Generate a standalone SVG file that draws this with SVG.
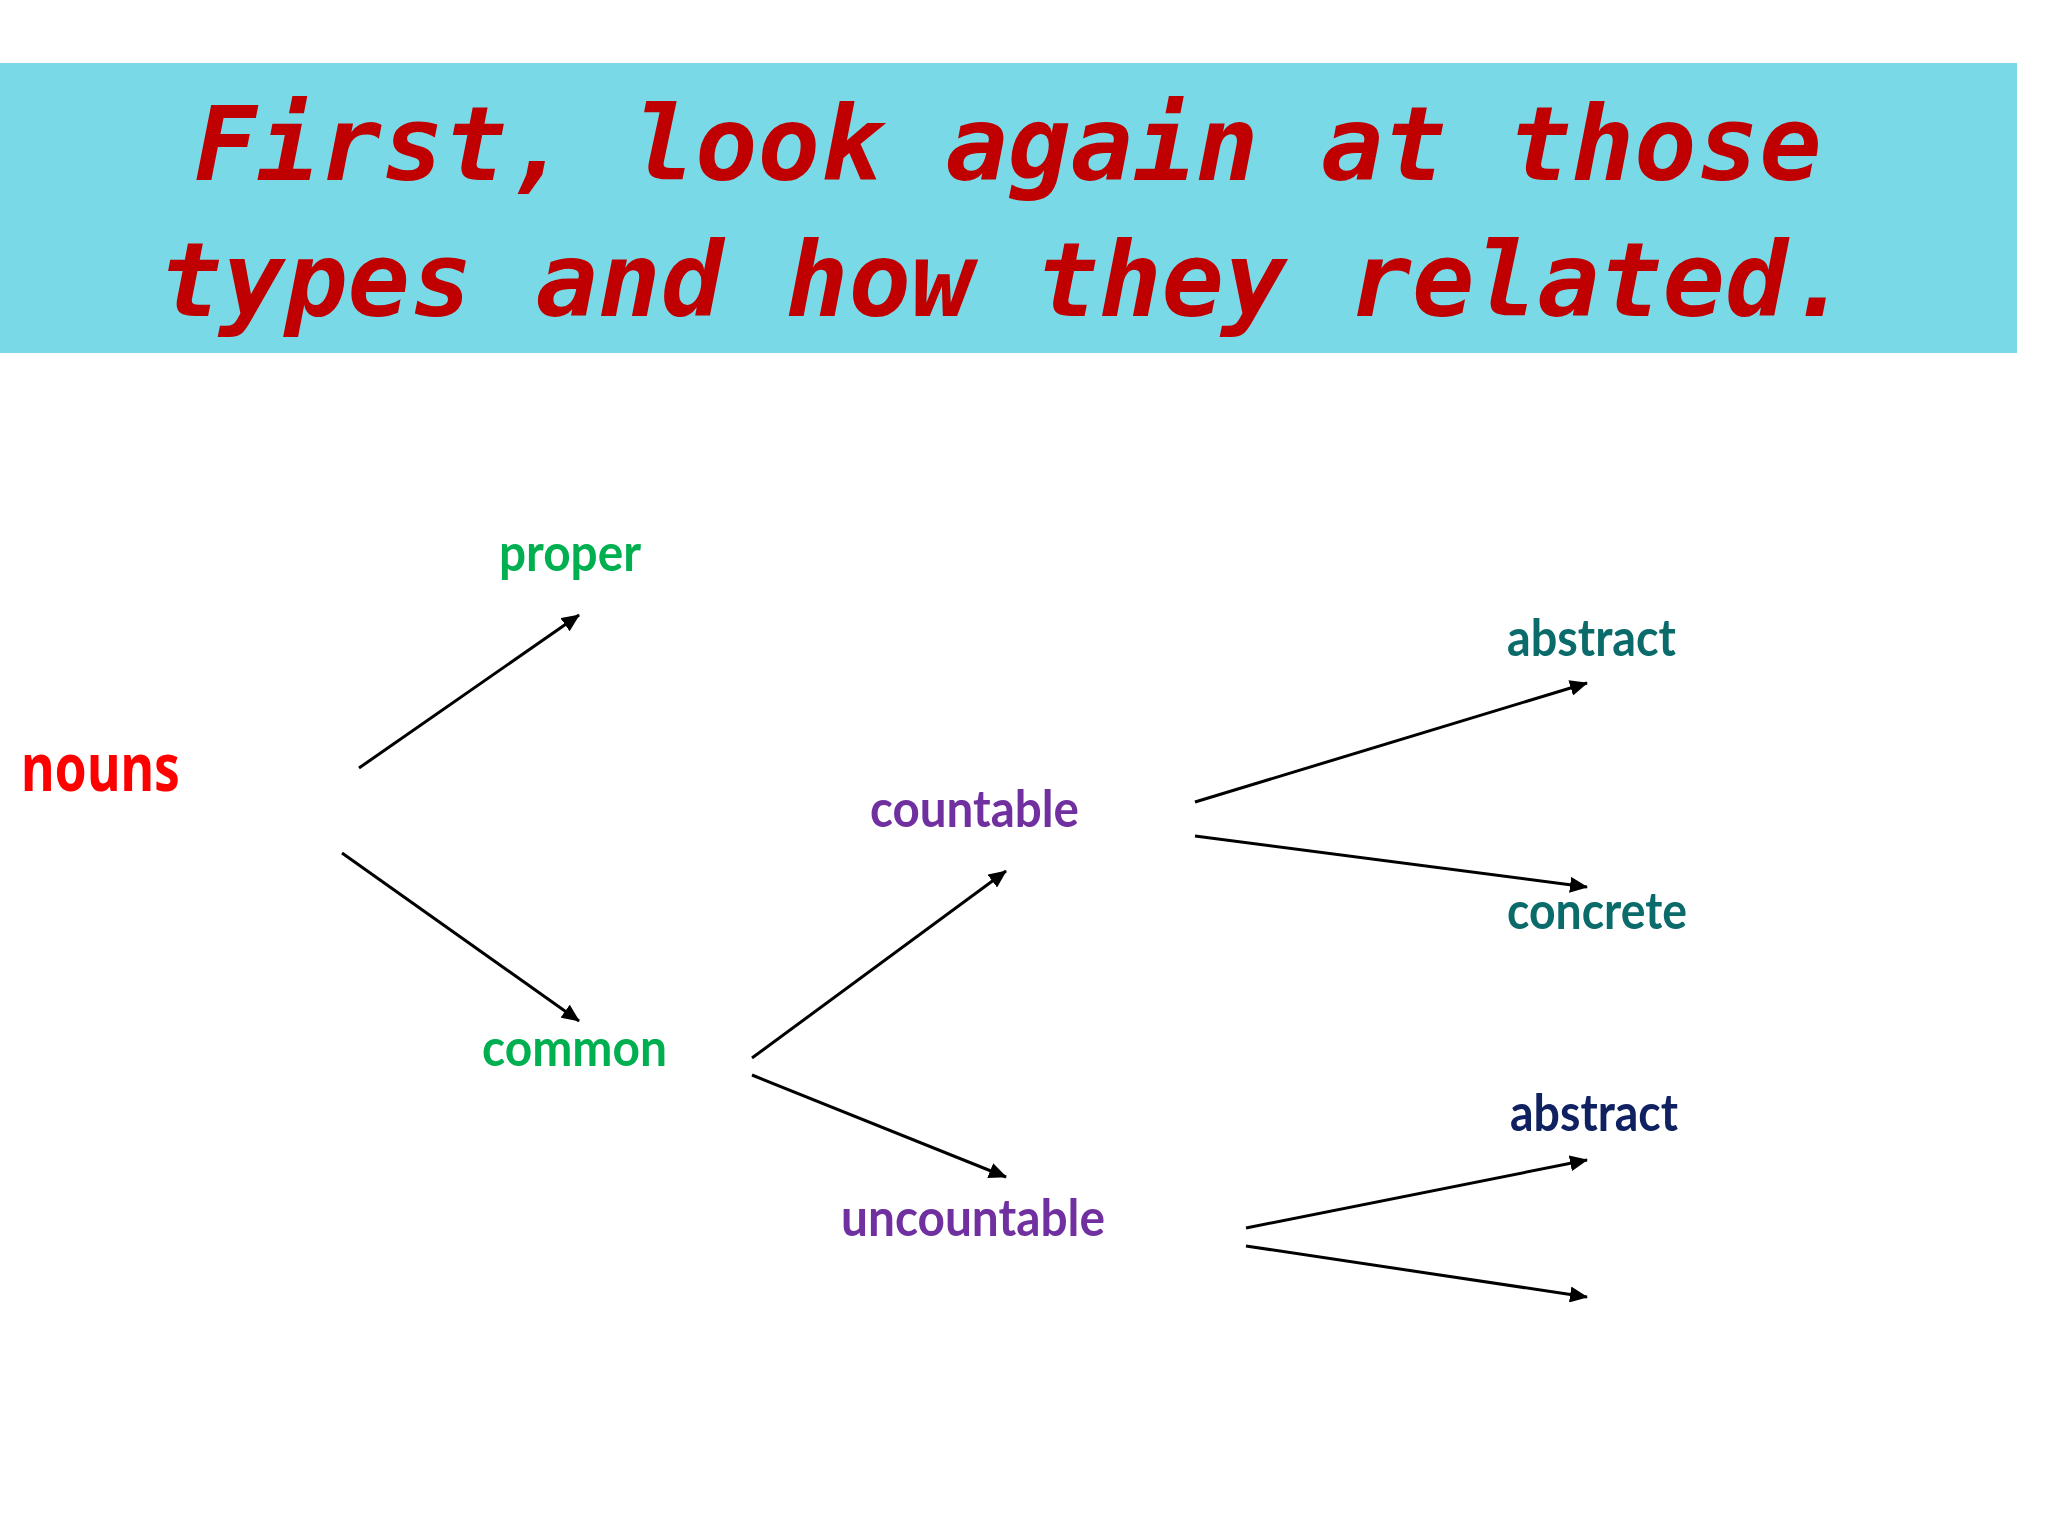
<svg xmlns="http://www.w3.org/2000/svg" width="2048" height="1536" viewBox="0 0 2048 1536">
<style>
.title{font-family:"DejaVu Sans Mono","Liberation Mono",monospace;font-weight:bold;font-style:oblique;font-size:104px;fill:#C00000}
.lbl{font-family:Lato,"Noto Sans","Liberation Sans",sans-serif;font-weight:bold;font-size:52px}
.green{fill:#00B050}
.purple{fill:#7030A0}
.teal{fill:#0B6B6B}
.navy{fill:#0F2160}
.nouns{font-family:"Noto Sans","Liberation Sans",sans-serif;font-weight:bold;font-size:66px;fill:#FF0000}
.conn line{stroke:#000;stroke-width:3;marker-end:url(#ah)}
</style>
<defs>
<marker id="ah" markerUnits="userSpaceOnUse" markerWidth="18" markerHeight="16" refX="17" refY="8" orient="auto">
<path d="M0,0 L18,8 L0,16 z" fill="#000"/>
</marker>
</defs>
<rect width="2048" height="1536" fill="#fff"/>
<g id="banner">
<rect x="0" y="63" width="2017" height="290" fill="#79D9E7"/>
<text class="title" x="1008" y="180" text-anchor="middle">First, look again at those</text>
<text class="title" x="1005" y="316" text-anchor="middle">types and how they related.</text>
</g>
<g id="node-nouns"><text class="nouns" x="21" y="791" textLength="159" lengthAdjust="spacingAndGlyphs">nouns</text></g>
<g id="node-proper"><text class="lbl green" x="499" y="571" textLength="142" lengthAdjust="spacingAndGlyphs">proper</text></g>
<g id="node-common"><text class="lbl green" x="482" y="1066" textLength="185" lengthAdjust="spacingAndGlyphs">common</text></g>
<g id="node-countable"><text class="lbl purple" x="870" y="827" textLength="209" lengthAdjust="spacingAndGlyphs">countable</text></g>
<g id="node-uncountable"><text class="lbl purple" x="841" y="1236" textLength="264" lengthAdjust="spacingAndGlyphs">uncountable</text></g>
<g id="node-abstract1"><text class="lbl teal" x="1507" y="656" textLength="169" lengthAdjust="spacingAndGlyphs">abstract</text></g>
<g id="node-concrete"><text class="lbl teal" x="1507" y="929" textLength="180" lengthAdjust="spacingAndGlyphs">concrete</text></g>
<g id="node-abstract2"><text class="lbl navy" x="1510" y="1131" textLength="168" lengthAdjust="spacingAndGlyphs">abstract</text></g>
<g id="connectors" class="conn">
<line x1="359" y1="768" x2="579" y2="615"/>
<line x1="342" y1="853" x2="579" y2="1021"/>
<line x1="752" y1="1058" x2="1006" y2="871"/>
<line x1="752" y1="1075" x2="1006" y2="1177"/>
<line x1="1195" y1="802" x2="1587" y2="683"/>
<line x1="1195" y1="836" x2="1587" y2="887"/>
<line x1="1246" y1="1228" x2="1587" y2="1160"/>
<line x1="1246" y1="1246" x2="1587" y2="1297"/>
</g>
</svg>
